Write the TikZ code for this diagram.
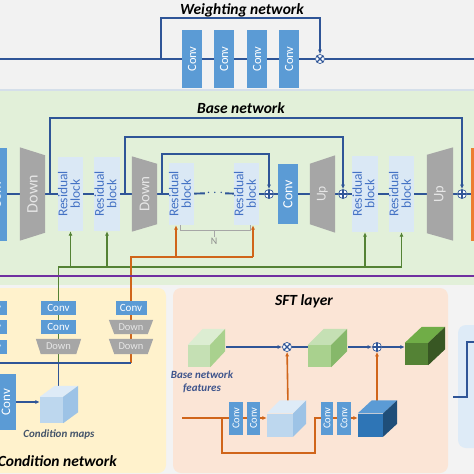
\documentclass[tikz,border=0pt]{standalone}
\usepackage{fontspec}
\setmainfont{Carlito}
\usetikzlibrary{arrows.meta,calc}
\definecolor{convblue}{HTML}{5B9BD5}
\definecolor{mainblue}{HTML}{2F5597}
\definecolor{downgray}{HTML}{A6A6A6}
\definecolor{downtext}{HTML}{E6E6E6}
\definecolor{resfill}{HTML}{DAE8F5}
\definecolor{restext}{HTML}{4472C4}
\definecolor{glin}{HTML}{548235}
\definecolor{olin}{HTML}{D0651A}
\definecolor{plin}{HTML}{7030A0}
\definecolor{allbg}{HTML}{F3F3F3}
\definecolor{wbg}{HTML}{F2F2F2}
\definecolor{basebg}{HTML}{E2F0D9}
\definecolor{baseedge}{HTML}{D5DFEA}
\definecolor{condbg}{HTML}{FFF2CC}
\definecolor{sftbg}{HTML}{FBE5D6}
\definecolor{rbbg}{HTML}{DEEBF7}
\definecolor{orbox}{HTML}{ED7D31}
\definecolor{labblue}{HTML}{3E548C}
\definecolor{slate}{HTML}{44546A}
\definecolor{ngray}{HTML}{8C8C8C}
\definecolor{lgA}{HTML}{C5E0B4}\definecolor{lgB}{HTML}{DCEDD2}\definecolor{lgC}{HTML}{A9D18E}
\definecolor{mgA}{HTML}{A9D18E}\definecolor{mgB}{HTML}{C5E0B4}\definecolor{mgC}{HTML}{86B86A}
\definecolor{dgA}{HTML}{548235}\definecolor{dgB}{HTML}{70AD47}\definecolor{dgC}{HTML}{385723}
\definecolor{lbA}{HTML}{BDD7EE}\definecolor{lbB}{HTML}{DEEBF7}\definecolor{lbC}{HTML}{9DC3E6}
\definecolor{dbA}{HTML}{2E75B6}\definecolor{dbB}{HTML}{5B9BD5}\definecolor{dbC}{HTML}{1F4E79}
\pgfdeclarelayer{back}\pgfdeclarelayer{lines}\pgfdeclarelayer{shapes}
\pgfsetlayers{back,lines,shapes,main}
\newcommand{\myfs}[2]{\fontsize{#1}{#2}\selectfont}
\newcommand{\rtext}[1]{\rotatebox{90}{#1}}
\newcommand{\rbtext}{\rotatebox{90}{\myfs{13.5}{10.5}\begin{tabular}{@{}c@{}}Residual\\block\end{tabular}}}
\newcommand{\trapfill}[5]{\fill[downgray] ($(#1.north west)+(#2)$) -- ($(#1.north east)+(#3)$) -- ($(#1.south east)+(#4)$) -- ($(#1.south west)+(#5)$) -- cycle;}
\newcommand{\cubefaces}[5]{%
  \fill[#4] (#1.north west) -- ++(#2,-#3) -- ($(#1.north east)+(#2,-#3)$) -- (#1.north east) -- cycle;
  \fill[#5] (#1.north east) -- ++(#2,-#3) -- ($(#1.south east)+(#2,-#3)$) -- (#1.south east) -- cycle;}
\begin{document}
\begin{tikzpicture}[x=1pt,y=-1pt,
  mline/.style={draw=mainblue, line width=1.9pt},
  gline/.style={draw=glin, line width=1.6pt},
  oline/.style={draw=olin, line width=1.6pt},
  pline/.style={draw=plin, line width=2pt},
  nline/.style={draw=downgray, line width=0.8pt},
  arr/.style={-{Latex[length=4.5pt,width=4pt]}},
  convbox/.style={fill=convblue, text=white, inner sep=0pt},
  resbox/.style={fill=resfill, text=restext, inner sep=0pt},
  trapn/.style={inner sep=0pt, text=downtext},
  cubefront/.style={inner sep=0pt, fill=#1},
  title/.style={font=\myfs{15.5}{18}\bfseries\itshape, inner sep=0pt},
  mulc/.style={circle, draw=mainblue, fill=white, line width=0.7pt, minimum size=9pt, inner sep=0pt,
    path picture={\draw[mainblue,line width=1.1pt] (path picture bounding box.north west) -- (path picture bounding box.south east) (path picture bounding box.north east) -- (path picture bounding box.south west);}},
  plusc/.style={circle, draw=mainblue, fill=white, line width=0.7pt, minimum size=9pt, inner sep=0pt,
    path picture={\draw[mainblue,line width=1.1pt] (path picture bounding box.north) -- (path picture bounding box.south) (path picture bounding box.west) -- (path picture bounding box.east);}}
]
\useasboundingbox (0,0) rectangle (474,474);
\begin{pgfonlayer}{back}
  \fill[allbg] (0,0) rectangle (474,474);
  \fill[wbg] (0,0) rectangle (474,89);
  \fill[basebg] (0,90) rectangle (474,285);
  \draw[baseedge, line width=1.2pt] (0,90) -- (474,90);
  \fill[condbg, rounded corners=8pt] (-12,288) rectangle (166,473);
  \fill[sftbg, rounded corners=8pt] (173,288) rectangle (448,473);
  \fill[rbbg, rounded corners=8pt] (458,325) rectangle (495,448);
\end{pgfonlayer}

% ---------------- Weighting network
\node[title] (wt) at (242,10) {Weighting network};
\foreach \n/\x in {w1/192,w2/224,w3/257,w4/289}
  \node[convbox, minimum width=20, minimum height=58, font=\myfs{12.5}{12.5}] (\n) at (\x,59) {\rtext{Conv}};
\node[mulc] (wm) at (320,59) {};
\coordinate (wl) at (0,59);
\coordinate (wr) at (474,59);
\coordinate (wj) at (161,59);

% ---------------- Base network
\node[title] (bt) at (241,108) {Base network};
\node[convbox, minimum width=21, minimum height=93, font=\myfs{14}{14}] (bc0) at (-3.5,194) {\rtext{Conv}};
\node[trapn, minimum width=25, minimum height=93, font=\myfs{16}{16}] (bd1) at (32.5,194) {\rtext{Down}};
\coordinate (j1) at (50,194);
\node[resbox, minimum width=25, minimum height=74] (br1) at (70.5,194) {\rbtext};
\node[resbox, minimum width=24, minimum height=74] (br2) at (107,194) {\rbtext};
\coordinate (j2) at (125,194);
\node[trapn, minimum width=25, minimum height=75, font=\myfs{15}{15}] (bd2) at (144.5,194) {\rtext{Down}};
\coordinate (j3) at (162,194);
\node[resbox, minimum width=25, minimum height=62] (br3) at (181.5,194) {\rbtext};
\node[inner sep=1.5pt, text=mainblue, font=\myfs{14}{14}\bfseries] (dots) at (215,193) {$\cdots$};
\node[resbox, minimum width=25, minimum height=62] (br4) at (246.5,194) {\rbtext};
\node[plusc] (bp3) at (269,194) {};
\node[convbox, minimum width=20, minimum height=60, font=\myfs{14}{14}] (bc1) at (288,194) {\rtext{Conv}};
\node[trapn, minimum width=25, minimum height=77, font=\myfs{13.5}{13.5}] (bu1) at (322.5,194) {\rtext{Up}};
\node[plusc] (bp2) at (343,194) {};
\node[resbox, minimum width=24, minimum height=76] (br5) at (365,194) {\rbtext};
\node[resbox, minimum width=25, minimum height=76] (br6) at (401.5,194) {\rbtext};
\node[trapn, minimum width=26, minimum height=93, font=\myfs{14.5}{14.5}] (bu2) at (440,194) {\rtext{Up}};
\node[plusc] (bp1) at (462,194) {};
\node[fill=orbox, inner sep=0pt, minimum width=18, minimum height=93] (bo) at (480,194) {};
\node[text=ngray, font=\myfs{10}{10}, inner sep=1pt] (nlab) at (214,241) {N};
\coordinate (o3) at ($(br3.south)+(-5.5,0)$);
\coordinate (o4) at ($(br4.south)+(6.5,0)$);
\coordinate (gh) at (0,267);
\coordinate (oh) at (0,257);
\coordinate (pl) at (0,276);
\coordinate (pr) at (474,276);

% ---------------- Condition network
\foreach \n/\y in {cl1/308,cl2/327,cl3/346.5}
  \node[convbox, minimum width=34, minimum height=14, font=\myfs{11}{11}] (\n) at (-10,\y) {Conv};
\node[convbox, minimum width=35, minimum height=14, font=\myfs{11}{11}] (cc1) at (58.5,308) {Conv};
\node[convbox, minimum width=35, minimum height=14, font=\myfs{11}{11}] (cc2) at (58.5,327) {Conv};
\node[trapn, minimum width=45, minimum height=15, font=\myfs{10.5}{10.5}] (cd1) at (58.5,346.5) {Down};
\node[convbox, minimum width=31, minimum height=14, font=\myfs{11}{11}] (cr1) at (131,308) {Conv};
\node[trapn, minimum width=44, minimum height=14, font=\myfs{10.5}{10.5}] (cr2) at (131,327) {Down};
\node[trapn, minimum width=44, minimum height=15, font=\myfs{10.5}{10.5}] (cr3) at (131,346.5) {Down};
\coordinate (hl) at (0,363);
\node[convbox, minimum width=20, minimum height=56, font=\myfs{13}{13}] (ccv) at (6,402) {\rtext{Conv}};
\node[cubefront=lbA, minimum width=23, minimum height=26] (cm) at (51.5,410) {};
\cubefaces{cm}{15}{11}{lbB}{lbC}
\coordinate (cmtop) at ($(cm.north)+(7,-6)$);
\node[font=\myfs{11}{11}\bfseries\itshape, text=slate, inner sep=0pt] (cml) at (59,434) {Condition maps};
\node[title, anchor=east] (ct) at (117,461) {Condition network};

% ---------------- SFT layer
\node[title] (st) at (304,301) {SFT layer};
\node[cubefront=lgA, minimum width=22, minimum height=22] (c1) at (199,356) {};
\cubefaces{c1}{15}{16}{lgB}{lgC}
\node[cubefront=mgA, minimum width=23, minimum height=22] (c2) at (319.5,356) {};
\cubefaces{c2}{16}{16}{mgB}{mgC}
\node[cubefront=dgA, minimum width=23, minimum height=22] (c3) at (416.5,354) {};
\cubefaces{c3}{17}{16}{dgB}{dgC}
\node[cubefront=lbA, minimum width=26, minimum height=23] (c4) at (280,425) {};
\cubefaces{c4}{13}{13}{lbB}{lbC}
\node[cubefront=dbA, minimum width=25, minimum height=23] (c5) at (370.5,425) {};
\cubefaces{c5}{14}{13}{dbB}{dbC}
\node[mulc] (sm) at (287,347) {};
\node[plusc] (sp) at (377,347) {};
\coordinate (s1) at (226,347);
\coordinate (s2) at (348,347);
\node[font=\myfs{11}{13}\bfseries\itshape, text=labblue, align=center, inner sep=0pt] (bnf) at (202,382) {Base network\\features};
\foreach \n/\x/\w in {f1/236/14,f2/253.5/13,f3/327/12,f4/344/14}
  \node[convbox, minimum width=\w, minimum height=33, font=\myfs{10.5}{10.5}] (\n) at (\x,418) {\rtext{Conv}};
\coordinate (oin) at (182,418);
\coordinate (ob) at (222,418);
\coordinate (ob2) at (315,418);
\coordinate (obot) at (0,453);
\coordinate (u4) at (288,406);
\coordinate (u5) at (377,406);
\coordinate (r1) at (453,397);
\coordinate (r2) at (467,397);
\coordinate (r3) at (480,342);

% ---------------- trapezoid bodies
\begin{pgfonlayer}{shapes}
  \trapfill{bd1}{0,0}{0,8}{0,-8}{0,0}
  \trapfill{bd2}{0,0}{0,7.5}{0,-7.5}{0,0}
  \trapfill{bu1}{0,8.5}{0,0}{0,0}{0,-8.5}
  \trapfill{bu2}{0,7.5}{0,0}{0,0}{0,-7.5}
  \trapfill{cd1}{0,0}{0,0}{-5,0}{5,0}
  \trapfill{cr2}{0,0}{0,0}{-5.5,0}{5.5,0}
  \trapfill{cr3}{0,0}{0,0}{-5.5,0}{5.5,0}
\end{pgfonlayer}

% ---------------- connectors
\begin{pgfonlayer}{lines}
  % weighting
  \draw[mline] (wl) -- (wm);
  \draw[mline] (wm) -- (wr);
  \draw[mline, arr] (wj) -- ++(0,-41) -| (wm.north);
  % base main line
  \draw[mline] (bc0) -- (bd1) -- (br1) -- (br2) -- (bd2) -- (br3) -- (dots) -- (br4) -- (bp3) -- (bc1) -- (bu1) -- (bp2) -- (br5) -- (br6) -- (bu2) -- (bp1) -- (bo);
  \draw[mline, arr] (j1) -- ++(0,-76) -| (bp1.north);
  \draw[mline, arr] (j2) -- ++(0,-57) -| (bp2.north);
  \draw[mline, arr] (j3) -- ++(0,-40) -| (bp3.north);
  % N bracket
  \draw[nline] ($(br3.south)+(-1.5,0)$) -- ++(0,5) -| ($(br4.south)+(3.5,0)$);
  \draw[nline] (214,230) -- (nlab.north);
  % green
  \draw[gline] (cd1.center |- hl) -- (cd1.center |- gh) -- (br6.south |- gh);
  \foreach \b in {br1,br2,br5,br6}
    \draw[gline, arr] (\b.south |- gh) -- (\b.south);
  % orange
  \draw[oline] (cr3.center |- hl) -- (cr3.center |- oh) -- (o4 |- oh);
  \draw[oline, arr] (o3 |- oh) -- (o3);
  \draw[oline, arr] (o4 |- oh) -- (o4);
  % purple
  \draw[pline] (pl) -- (pr);
  % condition network
  \draw[mline] (hl) -- (cr3.center |- hl);
  \draw[mline] (cd1.center |- hl) -- (cmtop);
  \draw[mline, arr] (ccv.east) -- (ccv.east -| cm.west);
  % SFT
  \draw[mline, arr] (s1) -- (sm);
  \draw[mline] (sm) -- (sm -| c2.west);
  \draw[mline, arr] (s2) -- (sp);
  \draw[mline, arr] (sp) -- (sp -| c3.west);
  \draw[oline] (oin) -- (f1);
  \draw[oline] (f1) -- (f2);
  \draw[oline, arr] (f2) -- (f2 -| c4.west);
  \draw[oline] (ob) -- (ob |- obot) -- (ob2 |- obot) -- (ob2) -- (f3);
  \draw[oline] (f3) -- (f4);
  \draw[oline, arr] (f4) -- (f4 -| c5.west);
  \draw[oline, arr] (u4) -- (sm);
  \draw[oline, arr] (u5) -- (sp);
  % right box
  \draw[mline] (r1) -- (r2) |- (r3);
\end{pgfonlayer}
\end{tikzpicture}
\end{document}
